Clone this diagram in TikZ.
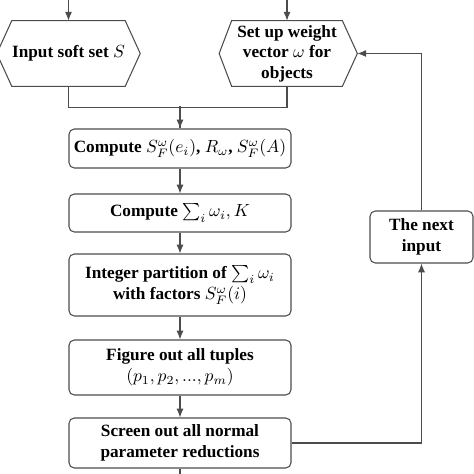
\documentclass[tikz,border=0pt]{standalone}
\usepackage{fontspec}
\setmainfont{Liberation Serif}
\usepackage{amssymb}
\usetikzlibrary{arrows.meta}

\begin{document}
\begin{tikzpicture}[x=1cm,y=1cm,
    line/.style={draw=black!70, line width=0.6pt},
    arr/.style={line, -{Latex[length=5pt,width=4pt]}},
    stepbox/.style={line, rounded corners=3pt, minimum width=4.44cm, align=center, inner sep=1pt, font=\fontsize{9.8}{12.2}\selectfont\bfseries},
    hexbox/.style={minimum height=1.3cm, align=center, inner sep=0pt, font=\fontsize{9.8}{11.6}\selectfont\bfseries}]
                \useasboundingbox (0,0) rectangle (9.48,9.48);
                \coordinate (topL) at (1.37,9.48);
                \coordinate (topR) at (5.74,9.48);
                \coordinate (bot) at (3.6,0);
                \node[hexbox, minimum width=2.14cm] (inp) at (1.37,8.41) {Input soft set $S$};
                \node[hexbox, minimum width=2.2cm] (wgt) at (5.74,8.41) {Set up weight\\vector $\omega$ for\\objects};
                \draw[line] (inp.north west) -- (inp.north east) -- ([xshift=0.3cm]inp.east) -- (inp.south east) -- (inp.south west) -- ([xshift=-0.3cm]inp.west) -- cycle;
                \draw[line] (wgt.north west) -- (wgt.north east) -- ([xshift=0.3cm]wgt.east) -- (wgt.south east) -- (wgt.south west) -- ([xshift=-0.25cm]wgt.west) -- cycle;
                \node[stepbox, minimum height=0.78cm] (cmp) at (3.6,6.51) {Compute $S_F^{\omega}(e_i)$, $R_\omega$, $S_F^{\omega}(A)$};
                \node[stepbox, minimum height=0.76cm] (sum) at (3.6,5.22) {Compute $\sum_i \omega_i, K$};
                \node[stepbox, minimum height=1.24cm] (part) at (3.6,3.78) {Integer partition of $\sum_i \omega_i$\\with factors $S_F^{\omega}(i)$};
                \node[stepbox, minimum height=1.1cm] (tup) at (3.6,2.13) {Figure out all tuples\\$(p_1, p_2, ..., p_m)$};
                \node[stepbox, minimum height=1.0cm] (scr) at (3.6,0.62) {Screen out all normal\\parameter reductions};
                \node[stepbox, minimum width=2.06cm, minimum height=1.04cm] (nxt) at (8.43,4.74) {The next\\input};
                \draw[arr] (topL) -- (inp);
                \draw[arr] (topR) -- (wgt);
                \draw[line] (inp.south) -- ++(0,-0.42) -| (cmp.north);
                \draw[line] (wgt.south) -- ++(0,-0.42) -| (cmp.north);
                \draw[arr] ([yshift=0.44cm]cmp.north) -- (cmp.north);
                \draw[arr] (cmp) -- (sum);
                \draw[arr] (sum) -- (part);
                \draw[arr] (part) -- (tup);
                \draw[arr] (tup) -- (scr);
                \draw[line] (scr) -- (bot);
                \draw[arr] (scr.east) -| (nxt.south);
                \draw[arr] (nxt.north) |- ([xshift=0.3cm]wgt.east);
            \end{tikzpicture}
\end{document}
